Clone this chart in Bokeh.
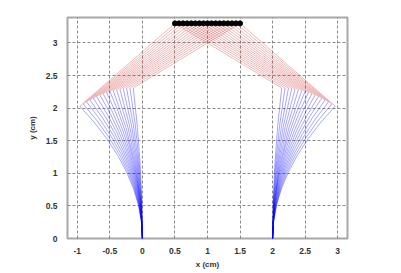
from bokeh.plotting import figure
from bokeh.embed import file_html
from bokeh.resources import INLINE
from bokeh.models import FixedTicker, Range1d

# --- data ---
# left family: starts at (0, 0)
left_start = (0.0, 0.0)
left_end_x = [-0.960, -0.909, -0.858, -0.806, -0.755, -0.704, -0.652, -0.601, -0.550,
              -0.499, -0.448, -0.396, -0.345, -0.294, -0.243, -0.191, -0.140]
left_end_y = [2.030, 2.064, 2.096, 2.125, 2.153, 2.178, 2.201, 2.221, 2.240,
              2.256, 2.271, 2.283, 2.293, 2.300, 2.306, 2.309, 2.310]
# right family: starts at (2, 0)
right_start = (2.0, 0.0)
right_end_x = [2.960, 2.909, 2.858, 2.806, 2.755, 2.704, 2.652, 2.601, 2.550,
               2.499, 2.448, 2.396, 2.345, 2.294, 2.243, 2.191, 2.140]
right_end_y = [2.030, 2.064, 2.096, 2.125, 2.153, 2.178, 2.201, 2.221, 2.240,
               2.256, 2.271, 2.283, 2.293, 2.300, 2.306, 2.309, 2.310]
# detector points at the top
dot_x = [0.5, 0.5625, 0.625, 0.6875, 0.75, 0.8125, 0.875, 0.9375, 1.0,
         1.0625, 1.125, 1.1875, 1.25, 1.3125, 1.375, 1.4375, 1.5]
dot_y = [3.3] * 17

x_ticks = [-1, -0.5, 0, 0.5, 1, 1.5, 2, 2.5, 3]
y_ticks = [0, 0.5, 1, 1.5, 2, 2.5, 3]

p = figure(width=401, height=273, output_backend="svg", toolbar_location=None,
           x_range=Range1d(-1.15, 3.15), y_range=Range1d(0, 3.39),
           min_border_left=67, min_border_right=54, min_border_top=17, min_border_bottom=35)
p.background_fill_color = "white"
p.border_fill_color = "white"
p.outline_line_color = "#a8a8a8"
p.outline_line_width = 2

# blue curved paths (vertical tangent at start)
n = len(left_end_x)
p.quadratic(x0=[left_start[0]] * n, y0=[left_start[1]] * n,
            x1=left_end_x, y1=left_end_y,
            cx=[left_start[0]] * n, cy=[y / 2 for y in left_end_y],
            line_color="blue", line_alpha=0.35, line_width=1)
m = len(right_end_x)
p.quadratic(x0=[right_start[0]] * m, y0=[right_start[1]] * m,
            x1=right_end_x, y1=right_end_y,
            cx=[right_start[0]] * m, cy=[y / 2 for y in right_end_y],
            line_color="blue", line_alpha=0.35, line_width=1)

# red straight rays to the detector points
p.segment(x0=left_end_x, y0=left_end_y, x1=dot_x, y1=dot_y,
          line_color="#d03030", line_alpha=0.35, line_width=1)
p.segment(x0=right_end_x, y0=right_end_y, x1=dot_x[::-1], y1=dot_y[::-1],
          line_color="#d03030", line_alpha=0.35, line_width=1)

# detector line with dots
p.line(dot_x, dot_y, line_color="black", line_width=2)
p.scatter(dot_x, dot_y, size=5, fill_color="black", line_color="black")

for ax in (p.xaxis, p.yaxis):
    ax.axis_line_color = None
    ax.major_tick_line_color = None
    ax.minor_tick_line_color = None
    ax.major_label_text_font = "Liberation Sans"
    ax.major_label_text_font_style = "bold"
    ax.major_label_text_font_size = "8.5px"
    ax.major_label_text_color = "#333333"
    ax.axis_label_text_font = "Liberation Sans"
    ax.axis_label_text_font_style = "bold"
    ax.axis_label_text_font_size = "8px"
    ax.axis_label_text_color = "#333333"

p.xaxis.ticker = FixedTicker(ticks=x_ticks)
p.yaxis.ticker = FixedTicker(ticks=y_ticks)
p.xaxis.major_label_overrides = {-1: "-1", -0.5: "-0.5", 0: "0", 0.5: "0.5", 1: "1",
                                 1.5: "1.5", 2: "2", 2.5: "2.5", 3: "3"}
p.yaxis.major_label_overrides = {0: "0", 0.5: "0.5", 1: "1", 1.5: "1.5", 2: "2",
                                 2.5: "2.5", 3: "3"}
p.xaxis.axis_label = "x (cm)"
p.yaxis.axis_label = "y (cm)"
p.xaxis.major_label_standoff = 3
p.xaxis.axis_label_standoff = 3
p.yaxis.major_label_standoff = 4
p.yaxis.axis_label_standoff = 6

for g in (p.xgrid, p.ygrid):
    g.grid_line_color = "#777777"
    g.grid_line_alpha = 0.85
    g.grid_line_dash = "3 2"
    g.grid_line_width = 1

open("out.html", "w").write(file_html(p, INLINE))
